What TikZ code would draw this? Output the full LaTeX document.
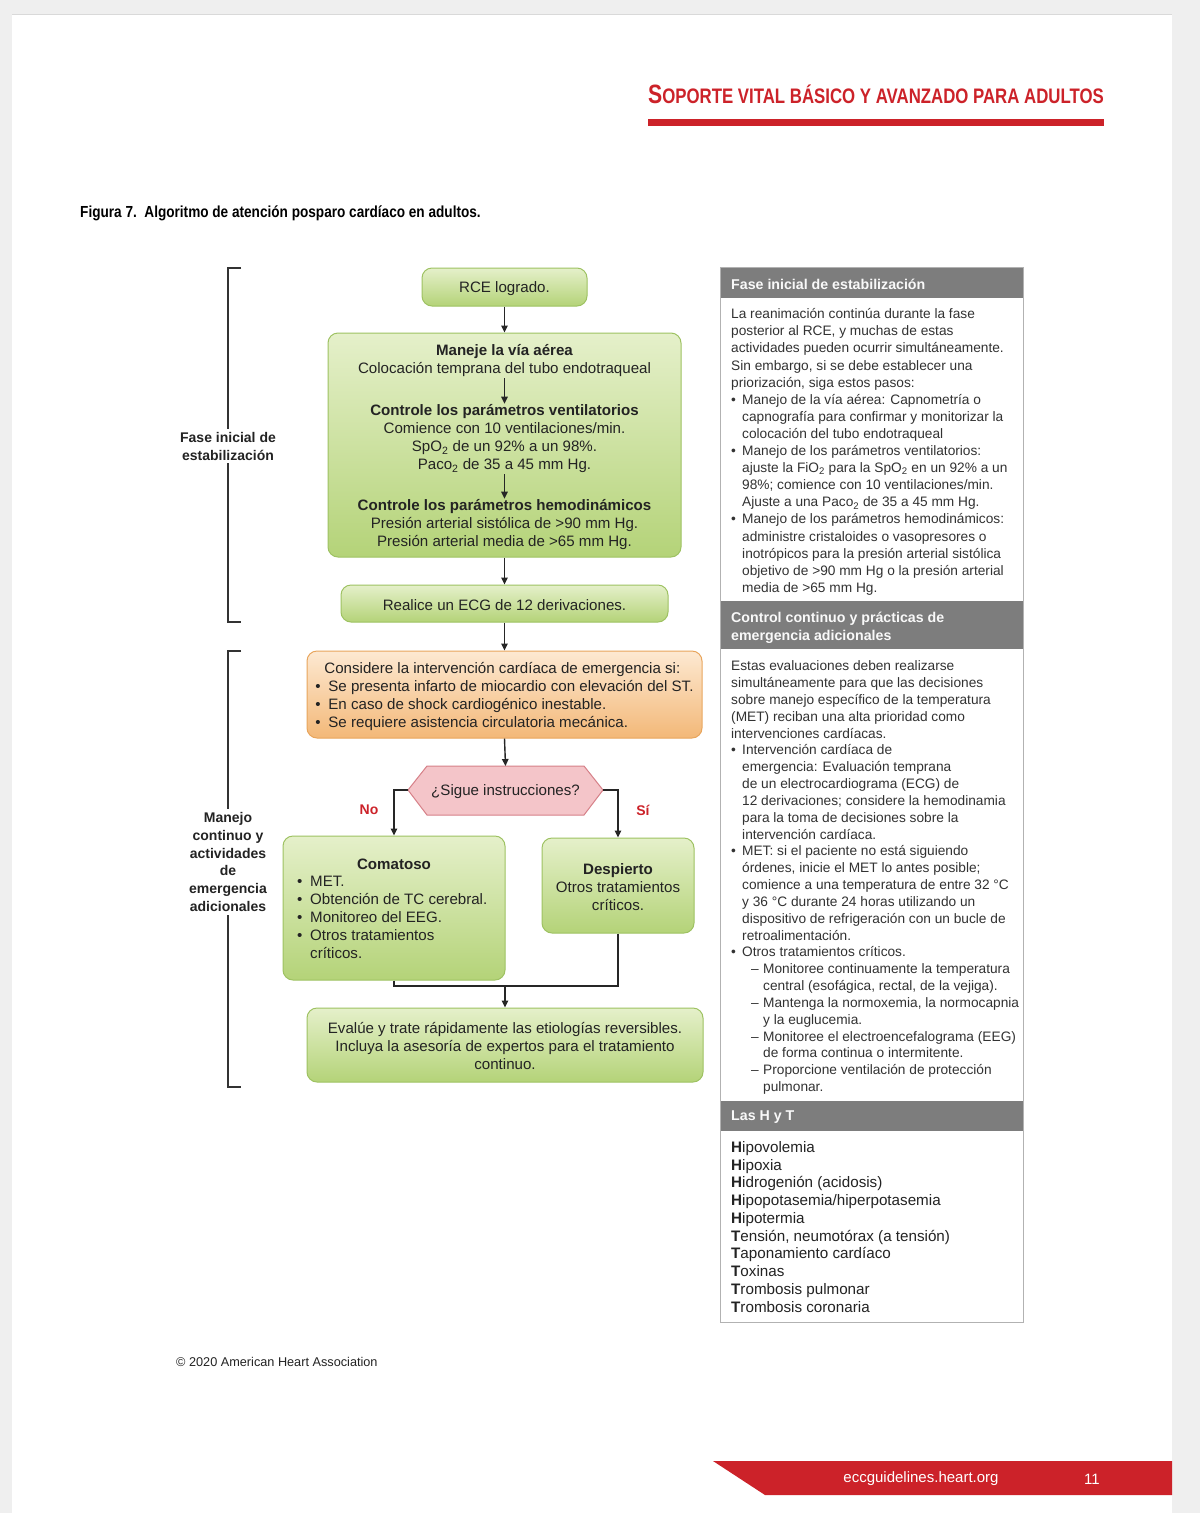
\documentclass[tikz,border=0pt]{standalone}
\usepackage{fontspec}
\setmainfont{Liberation Sans}
\newfontfamily\condfont[FakeStretch=0.80]{Liberation Sans}
\newfontfamily\condtitle[FakeStretch=0.85]{Liberation Sans}
\usetikzlibrary{arrows.meta,calc}
\definecolor{ahared}{RGB}{204,34,41}
\definecolor{bggray}{RGB}{239,239,239}
\definecolor{hdrgray}{RGB}{125,125,125}
\definecolor{gtop}{RGB}{229,240,202}
\definecolor{gbot}{RGB}{180,211,120}
\definecolor{gline}{RGB}{158,194,98}
\definecolor{otop}{RGB}{253,233,210}
\definecolor{obot}{RGB}{243,184,120}
\definecolor{oline}{RGB}{232,165,92}
\definecolor{pfill}{RGB}{244,197,201}
\definecolor{pline}{RGB}{214,128,136}
\definecolor{txt}{RGB}{35,35,35}
\definecolor{ptxt}{RGB}{50,50,50}
\newcommand{\bul}{\makebox[11pt][l]{•}}
\newcommand{\bulind}{\hspace*{11pt}}
\newcommand{\dsh}{\hspace*{20pt}\makebox[12pt][l]{–}}
\newcommand{\dshind}{\hspace*{32pt}}
\newcommand{\fbul}{\makebox[13pt][l]{•}}
\begin{document}
\begin{tikzpicture}[x=1pt,y=-1pt,
  gbox/.style={draw=gline,line width=1pt,rounded corners=10pt,top color=gtop,bottom color=gbot},
  obox/.style={draw=oline,line width=1pt,rounded corners=10pt,top color=otop,bottom color=obot},
  ftext/.style={font=\fontsize{15.1}{18}\selectfont,text=txt,align=center,inner sep=1pt},
  arr/.style={draw=black!85,line width=1.4pt,-{Triangle[length=7pt,width=6.5pt]}},
  conn/.style={draw=black!85,line width=1.4pt},
  brk/.style={draw=black!80,line width=1.5pt},
  lab/.style={fill=white,font=\bfseries\fontsize{14}{18}\selectfont,text=txt,align=center,inner sep=3pt},
  hdrtxt/.style={font=\bfseries\fontsize{14.2}{18}\selectfont,text=white!95!gray,align=left,inner sep=0pt},
  body/.style={font=\fontsize{13.7}{17.1}\selectfont,text=ptxt,align=left,inner sep=0pt,anchor=north west},
]
% page
\fill[bggray] (0,0) rectangle (1200,1513);
\fill[white] (12,15) rectangle (1172,1513);
\draw[black!15] (12,14.5) -- (1172,14.5);
\useasboundingbox (0,0) rectangle (1200,1513);

% header
\node[anchor=base east,inner sep=0pt,text=ahared,font=\condfont\bfseries] (hdr) at (1104,103)
  {\fontsize{26.5}{26}\selectfont S\fontsize{21}{21}\selectfont OPORTE VITAL BÁSICO Y AVANZADO PARA ADULTOS};
\fill[ahared] (648,119) rectangle (1104,126);

% title
\node[anchor=base west,inner sep=0pt,text=black,font=\condtitle\bfseries\fontsize{16}{16}\selectfont] (title) at (80,217)
  {Figura 7.\ \ Algoritmo de atención posparo cardíaco en adultos.};

% brackets
\draw[brk] (241,268) -- (228,268) -- (228,622) -- (241,622);
\node[lab] (lab1) at (228,446) {Fase inicial de\\estabilización};
\draw[brk] (241,651) -- (228,651) -- (228,1087) -- (241,1087);
\node[lab,font=\bfseries\fontsize{14}{17.8}\selectfont] (lab2) at (228,862)
  {Manejo\\continuo y\\actividades\\de\\emergencia\\adicionales};

% flowchart boxes
\node[gbox,minimum width=165pt,minimum height=38pt] (rce) at (504.5,287) {};
\node[ftext] (rcet) at (504.5,289) {RCE logrado.};
\node[gbox,minimum width=353pt,minimum height=224pt] (air) at (504.5,445) {};
\node[ftext] (tair) at (504.5,361) {\textbf{Maneje la vía aérea}\\Colocación temprana del tubo endotraqueal};
\node[ftext] (tvent) at (504.5,439) {\textbf{Controle los parámetros ventilatorios}\\Comience con 10 ventilaciones/min.\\SpO\textsubscript{2} de un 92\% a un 98\%.\\Paco\textsubscript{2} de 35 a 45 mm Hg.};
\node[ftext] (themo) at (504.5,525) {\textbf{Controle los parámetros hemodinámicos}\\Presión arterial sistólica de >90 mm Hg.\\Presión arterial media de >65 mm Hg.};
\draw[arr] (rce) -- (air);
\draw[arr] (tair) -- (tvent);
\draw[arr] (tvent) -- (themo);

\node[gbox,minimum width=327pt,minimum height=37pt] (ecg) at (504.5,603.5) {};
\node[ftext] (ecgt) at (504.5,605.5) {Realice un ECG de 12 derivaciones.};
\draw[arr] (air) -- (ecg);

\node[obox,minimum width=395pt,minimum height=87pt] (cons) at (504.5,694.5) {};
\node[ftext,align=left] (const) at (504.5,696.5)
  {\hspace*{9pt}Considere la intervención cardíaca de emergencia si:\\
   \fbul Se presenta infarto de miocardio con elevación del ST.\\
   \fbul En caso de shock cardiogénico inestable.\\
   \fbul Se requiere asistencia circulatoria mecánica.};
\draw[arr] (ecg) -- (cons);

\draw[draw=pline,fill=pfill,line width=1pt] (408,790) -- (427,766) -- (584,766) -- (603,790) -- (584,815) -- (427,815) -- cycle;
\node[ftext] (q) at (505.5,792) {¿Sigue instrucciones?};
\coordinate (qN) at (505.5,766);
\coordinate (qW) at (408,790);
\coordinate (qE) at (603,790);
\draw[arr] (cons.south) -- (qN);

\node[font=\bfseries\fontsize{14}{16}\selectfont,text=ahared] (no) at (369,810) {No};
\node[font=\bfseries\fontsize{14}{16}\selectfont,text=ahared] (si) at (643,810) {Sí};

\node[gbox,minimum width=222pt,minimum height=144pt] (coma) at (394,908) {};
\node[ftext] (comat) at (394,864) {\textbf{Comatoso}};
\node[ftext,align=left,anchor=north west] (comal) at (296,875)
  {\fbul MET.\\\fbul Obtención de TC cerebral.\\\fbul Monitoreo del EEG.\\\fbul Otros tratamientos\\\hspace*{13pt}críticos.};
\node[gbox,minimum width=152pt,minimum height=95pt] (desp) at (618,885.5) {};
\node[ftext] (despt) at (618,887)
  {\textbf{Despierto}\\Otros tratamientos\\críticos.};
\draw[arr] (qW) -| (coma.north);
\draw[arr] (qE) -| (desp.north);

\node[gbox,minimum width=396pt,minimum height=74pt] (fin) at (505,1045) {};
\node[ftext] (fint) at (505,1045.5)
  {Evalúe y trate rápidamente las etiologías reversibles.\\Incluya la asesoría de expertos para el tratamiento\\continuo.};
\coordinate (mg) at (505,986);
\draw[conn] (coma.south) |- (mg);
\draw[conn] (desp.south) |- (mg);
\draw[arr] (mg) -- (fin.north);

% right panel
\fill[hdrgray] (720,267) rectangle (1023,298);
\fill[hdrgray] (720,601) rectangle (1023,649);
\fill[hdrgray] (720,1101) rectangle (1023,1131);
\draw[black!30,line width=1pt] (720,267) rectangle (1023,1322);
\node[hdrtxt,anchor=west] (h1) at (731,284) {Fase inicial de estabilización};
\node[hdrtxt,anchor=west] (h2) at (731,628) {Control continuo y prácticas de\\emergencia adicionales};
\node[hdrtxt,anchor=west] (h3) at (731,1117) {Las H y T};

\node[body] (b1) at (731,308.5)
  {La reanimación continúa durante la fase\\
   posterior al RCE, y muchas de estas\\
   actividades pueden ocurrir simultáneamente.\\
   Sin embargo, si se debe establecer una\\
   priorización, siga estos pasos:\\
   \bul Manejo de la vía aérea: Capnometría o\\
   \bulind capnografía para confirmar y monitorizar la\\
   \bulind colocación del tubo endotraqueal\\
   \bul Manejo de los parámetros ventilatorios:\\
   \bulind ajuste la FiO\textsubscript{2} para la SpO\textsubscript{2} en un 92\% a un\\
   \bulind 98\%; comience con 10 ventilaciones/min.\\
   \bulind Ajuste a una Paco\textsubscript{2} de 35 a 45 mm Hg.\\
   \bul Manejo de los parámetros hemodinámicos:\\
   \bulind administre cristaloides o vasopresores o\\
   \bulind inotrópicos para la presión arterial sistólica\\
   \bulind objetivo de >90 mm Hg o la presión arterial\\
   \bulind media de >65 mm Hg.};

\node[body,font=\fontsize{13.7}{16.84}\selectfont] (b2) at (731,660.5)
  {Estas evaluaciones deben realizarse\\
   simultáneamente para que las decisiones\\
   sobre manejo específico de la temperatura\\
   (MET) reciban una alta prioridad como\\
   intervenciones cardíacas.\\
   \bul Intervención cardíaca de\\
   \bulind emergencia: Evaluación temprana\\
   \bulind de un electrocardiograma (ECG) de\\
   \bulind 12 derivaciones; considere la hemodinamia\\
   \bulind para la toma de decisiones sobre la\\
   \bulind intervención cardíaca.\\
   \bul MET: si el paciente no está siguiendo\\
   \bulind órdenes, inicie el MET lo antes posible;\\
   \bulind comience a una temperatura de entre 32 °C\\
   \bulind y 36 °C durante 24 horas utilizando un\\
   \bulind dispositivo de refrigeración con un bucle de\\
   \bulind retroalimentación.\\
   \bul Otros tratamientos críticos.\\
   \dsh Monitoree continuamente la temperatura\\
   \dshind central (esofágica, rectal, de la vejiga).\\
   \dsh Mantenga la normoxemia, la normocapnia\\
   \dshind y la euglucemia.\\
   \dsh Monitoree el electroencefalograma (EEG)\\
   \dshind de forma continua o intermitente.\\
   \dsh Proporcione ventilación de protección\\
   \dshind pulmonar.};

\node[body,font=\fontsize{15.2}{17.78}\selectfont,text=txt] (b3) at (731,1141)
  {\textbf{H}ipovolemia\\
   \textbf{H}ipoxia\\
   \textbf{H}idrogenión (acidosis)\\
   \textbf{H}ipopotasemia/hiperpotasemia\\
   \textbf{H}ipotermia\\
   \textbf{T}ensión, neumotórax (a tensión)\\
   \textbf{T}aponamiento cardíaco\\
   \textbf{T}oxinas\\
   \textbf{T}rombosis pulmonar\\
   \textbf{T}rombosis coronaria};

% footer
\node[anchor=base west,inner sep=0pt,font=\fontsize{12.7}{13}\selectfont,text=txt] (copy) at (176,1366) {© 2020 American Heart Association};
\fill[ahared] (713,1461) -- (1172,1461) -- (1172,1495) -- (765,1495) -- cycle;
\node[text=white,font=\fontsize{15}{16}\selectfont] (url) at (921,1479) {eccguidelines.heart.org};
\node[text=white,font=\fontsize{15}{16}\selectfont] (pg) at (1092,1479) {11};
\end{tikzpicture}
\end{document}
